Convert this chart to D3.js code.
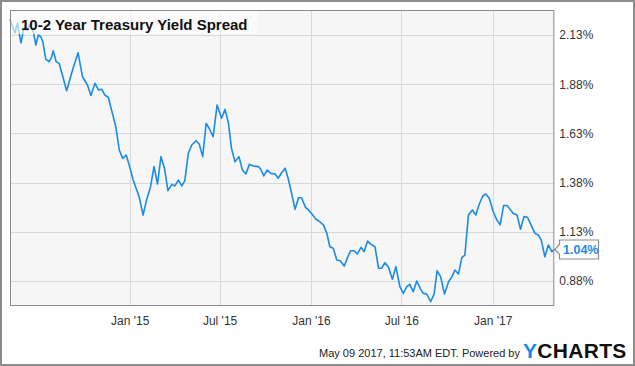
<!DOCTYPE html>
<html><head><meta charset="utf-8">
<script src="https://cdn.jsdelivr.net/npm/d3@7"></script>
<style>html,body{margin:0;padding:0;background:#fff;}svg{display:block;font-family:"Liberation Sans",Arial,sans-serif;}</style>
</head><body>
<svg id="chart" width="635" height="366"></svg>
<script>
const titleText = "10-2 Year Treasury Yield Spread";
const dates = ["2014-05-05","2014-05-15","2014-05-20","2014-05-27","2014-06-02","2014-06-08","2014-06-13","2014-06-21","2014-06-26","2014-07-01",
"2014-07-06","2014-07-10","2014-07-16","2014-07-23","2014-07-28","2014-07-31","2014-08-06","2014-08-12","2014-08-27","2014-09-09",
"2014-09-19","2014-09-28","2014-10-08","2014-10-15","2014-10-23","2014-10-30","2014-11-06","2014-11-12","2014-11-19","2014-11-22",
"2014-11-28","2014-12-04","2014-12-11","2014-12-18","2014-12-25","2014-12-31","2015-01-08","2015-01-20","2015-01-28","2015-02-04",
"2015-02-12","2015-02-19","2015-02-26","2015-03-05","2015-03-12","2015-03-19","2015-03-27","2015-04-02","2015-04-09","2015-04-16",
"2015-04-22","2015-04-29","2015-05-06","2015-05-15","2015-05-21","2015-05-28","2015-06-04","2015-06-10","2015-06-18","2015-06-26",
"2015-07-05","2015-07-12","2015-07-19","2015-07-25","2015-08-01","2015-08-09","2015-08-16","2015-08-23","2015-08-30","2015-09-07",
"2015-09-17","2015-09-22","2015-09-28","2015-10-05","2015-10-12","2015-10-21","2015-10-27","2015-11-03","2015-11-10","2015-11-16",
"2015-11-23","2015-11-30","2015-12-07","2015-12-13","2015-12-21","2015-12-27","2016-01-03","2016-01-11","2016-01-19","2016-01-26",
"2016-02-02","2016-02-08","2016-02-15","2016-02-22","2016-02-29","2016-03-08","2016-03-14","2016-03-21","2016-03-28","2016-04-03",
"2016-04-11","2016-04-17","2016-04-24","2016-05-01","2016-05-09","2016-05-16","2016-05-22","2016-05-29","2016-06-05","2016-06-13",
"2016-06-20","2016-06-28","2016-07-05","2016-07-12","2016-07-18","2016-07-25","2016-08-01","2016-08-08","2016-08-14","2016-08-21",
"2016-08-29","2016-09-05","2016-09-11","2016-09-18","2016-09-26","2016-10-04","2016-10-11","2016-10-17","2016-10-24","2016-10-31",
"2016-11-06","2016-11-13","2016-11-21","2016-11-28","2016-12-05","2016-12-12","2016-12-18","2016-12-25","2017-01-02","2017-01-09",
"2017-01-16","2017-01-23","2017-01-30","2017-02-05","2017-02-11","2017-02-19","2017-02-26","2017-03-05","2017-03-12","2017-03-20",
"2017-03-27","2017-04-03","2017-04-09","2017-04-16","2017-04-23","2017-04-30","2017-05-05"];
const spread = [2.21,2.14,2.19,2.09,2.166,2.155,2.18,2.147,2.079,2.13,
2.121,2.096,2.007,1.994,2.02,2.05,1.994,1.986,1.847,1.961,
2.04,1.918,1.876,1.823,1.885,1.851,1.854,1.825,1.813,1.783,
1.724,1.664,1.546,1.503,1.52,1.469,1.393,1.308,1.215,1.292,
1.359,1.461,1.373,1.512,1.453,1.339,1.371,1.363,1.393,1.363,
1.39,1.529,1.571,1.593,1.576,1.512,1.681,1.656,1.613,1.774,
1.707,1.752,1.681,1.554,1.486,1.512,1.444,1.424,1.473,1.464,
1.461,1.448,1.414,1.444,1.427,1.424,1.402,1.43,1.453,1.402,
1.326,1.244,1.303,1.303,1.254,1.241,1.22,1.194,1.181,1.165,
1.122,1.054,1.046,0.987,0.983,0.956,0.995,1.034,1.034,1.017,
1.051,1.029,1.083,1.066,1.054,0.945,0.945,0.973,0.95,0.889,
0.953,0.851,0.817,0.851,0.863,0.826,0.88,0.843,0.817,0.814,
0.775,0.814,0.932,0.902,0.814,0.876,0.902,0.936,0.916,1.0,
1.012,1.215,1.241,1.215,1.271,1.312,1.322,1.30,1.232,1.192,
1.165,1.264,1.264,1.244,1.224,1.215,1.143,1.207,1.204,1.16,
1.122,1.114,1.085,1.003,1.063,1.029,1.04];
const xDomain = ["2014-05-05","2017-05-05"];
const yDomain = [0.753, 2.257];
const xTickDates = ["2015-01-01","2015-07-01","2016-01-01","2016-07-01","2017-01-01"];
const xTickLabels = ["Jan '15","Jul '15","Jan '16","Jul '16","Jan '17"];
const yTicks = [0.88, 1.13, 1.38, 1.63, 1.88, 2.13];
const lastLabel = "1.04%";
const footerText = "May 09 2017, 11:53AM EDT.  Powered by";

const parse = d3.utcParse("%Y-%m-%d");
const data = dates.map((d, i) => ({date: parse(d), value: spread[i]}));

const svg = d3.select("#chart");
const L = 10, T = 10, R = 554.3, B = 306;
const x = d3.scaleUtc().domain(xDomain.map(parse)).range([L, R]);
const y = d3.scaleLinear().domain(yDomain).range([B, T]);
const blue = "#1a8be6";

// outer border
svg.append("rect").attr("x", 1).attr("y", 1).attr("width", 633).attr("height", 364)
  .attr("fill", "#fff").attr("stroke", "#8c8c8c").attr("stroke-width", 2);

// plot background
svg.append("rect").attr("x", L).attr("y", T).attr("width", R - L).attr("height", B - T)
  .attr("fill", "#f6f6f6");

// grid lines
const grid = svg.append("g").attr("stroke", "#d8d8d8").attr("stroke-width", 1);
yTicks.forEach(v => {
  const yy = Math.round(y(v)) + 0.5;
  grid.append("line").attr("x1", L).attr("x2", R).attr("y1", yy).attr("y2", yy);
});
xTickDates.forEach(d => {
  const xx = Math.round(x(parse(d))) + 0.5;
  grid.append("line").attr("x1", xx).attr("x2", xx).attr("y1", T).attr("y2", B);
});

// line
const line = d3.line().x(d => x(d.date)).y(d => y(d.value));
svg.append("path").datum(data).attr("d", line)
  .attr("fill", "none").attr("stroke", blue).attr("stroke-width", 1.6)
  .attr("stroke-linejoin", "round");

// title box
svg.append("rect").attr("x", L).attr("y", T).attr("width", 248).attr("height", 24)
  .attr("fill", "#fff").attr("opacity", 0.6);
svg.append("text").attr("x", 21).attr("y", 29.5).text(titleText)
  .attr("font-size", 15).attr("font-weight", "bold").attr("fill", "#111");

// plot border
svg.append("rect").attr("x", L + 0.5).attr("y", T + 0.5).attr("width", R - L - 1).attr("height", B - T - 1)
  .attr("fill", "none").attr("stroke", "#8c8c8c").attr("stroke-width", 1);

// y axis (right)
const yAxis = d3.axisRight(y).tickValues(yTicks).tickSize(0).tickPadding(5)
  .tickFormat(v => v.toFixed(2) + "%");
const gy = svg.append("g").attr("transform", `translate(${R},0)`).call(yAxis);
gy.select(".domain").remove();
gy.selectAll("text").attr("font-size", 12).attr("fill", "#333")
  .attr("font-family", "Liberation Sans, Arial, sans-serif");

// x axis
const xAxis = d3.axisBottom(x).tickValues(xTickDates.map(parse)).tickSize(0).tickPadding(10)
  .tickFormat((d, i) => xTickLabels[i]);
const gx = svg.append("g").attr("transform", `translate(0,${B})`).call(xAxis);
gx.select(".domain").remove();
gx.selectAll("text").attr("font-size", 12).attr("fill", "#333")
  .attr("font-family", "Liberation Sans, Arial, sans-serif");

// last value label
const last = data[data.length - 1];
const ly = y(last.value);
const bx = 559.5, bw = 39, bh = 19;
svg.append("path")
  .attr("d", `M${bx},${ly - bh/2} L${bx + bw},${ly - bh/2} L${bx + bw},${ly + bh/2} L${bx},${ly + bh/2} L${bx},${ly + 5} L${R + 0.5},${ly} L${bx},${ly - 5} Z`)
  .attr("fill", "#fff").attr("stroke", "#8c8c8c").attr("stroke-width", 1.2);
svg.append("text").attr("x", bx + 3.5).attr("y", ly + 4.5).text(lastLabel)
  .attr("font-size", 12.5).attr("font-weight", "bold").attr("fill", blue);

// footer
svg.append("text").attr("x", 520).attr("y", 357).attr("text-anchor", "end")
  .text(footerText).attr("font-size", 11).attr("fill", "#222");
const logo = svg.append("text").attr("x", 523).attr("y", 357.5)
  .attr("font-size", 21).attr("font-weight", "bold").attr("letter-spacing", 0.3);
logo.append("tspan").attr("fill", "#1a8be6").text("Y");
logo.append("tspan").attr("fill", "#111").text("CHARTS");
</script>
</body></html>
